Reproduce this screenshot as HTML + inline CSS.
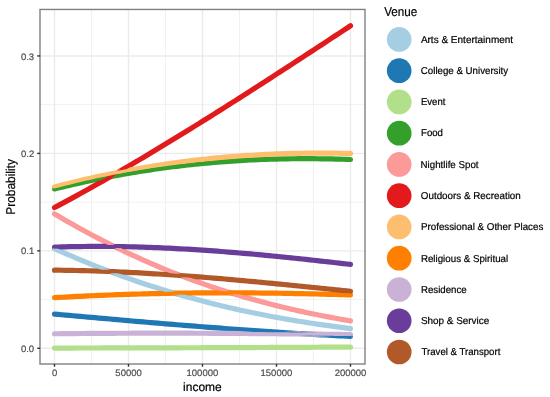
<!DOCTYPE html>
<html><head><meta charset="utf-8"><style>
html,body{margin:0;padding:0;background:#fff;width:550px;height:397px;overflow:hidden}
svg{display:block}
text{font-family:"Liberation Sans",Arial,Helvetica,sans-serif;text-rendering:geometricPrecision}
</style></head><body>
<svg width="550" height="397" viewBox="0 0 550 397">
<defs></defs><g>
<rect width="550" height="397" fill="#fff"/>
<g><line x1="40.0" x2="365.0" y1="299.57" y2="299.57" stroke="#EBEBEB" stroke-width="0.71"/><line x1="40.0" x2="365.0" y1="202.13" y2="202.13" stroke="#EBEBEB" stroke-width="0.71"/><line x1="40.0" x2="365.0" y1="104.68" y2="104.68" stroke="#EBEBEB" stroke-width="0.71"/><line y1="9.45" y2="364.0" x1="91.50" x2="91.50" stroke="#EBEBEB" stroke-width="0.71"/><line y1="9.45" y2="364.0" x1="165.50" x2="165.50" stroke="#EBEBEB" stroke-width="0.71"/><line y1="9.45" y2="364.0" x1="239.50" x2="239.50" stroke="#EBEBEB" stroke-width="0.71"/><line y1="9.45" y2="364.0" x1="313.50" x2="313.50" stroke="#EBEBEB" stroke-width="0.71"/><line x1="40.0" x2="365.0" y1="348.30" y2="348.30" stroke="#EBEBEB" stroke-width="1.42"/><line x1="40.0" x2="365.0" y1="250.85" y2="250.85" stroke="#EBEBEB" stroke-width="1.42"/><line x1="40.0" x2="365.0" y1="153.40" y2="153.40" stroke="#EBEBEB" stroke-width="1.42"/><line x1="40.0" x2="365.0" y1="55.95" y2="55.95" stroke="#EBEBEB" stroke-width="1.42"/><line y1="9.45" y2="364.0" x1="54.50" x2="54.50" stroke="#EBEBEB" stroke-width="1.42"/><line y1="9.45" y2="364.0" x1="128.50" x2="128.50" stroke="#EBEBEB" stroke-width="1.42"/><line y1="9.45" y2="364.0" x1="202.50" x2="202.50" stroke="#EBEBEB" stroke-width="1.42"/><line y1="9.45" y2="364.0" x1="276.50" x2="276.50" stroke="#EBEBEB" stroke-width="1.42"/><line y1="9.45" y2="364.0" x1="350.50" x2="350.50" stroke="#EBEBEB" stroke-width="1.42"/></g>
<g><polyline points="54.50,248.62 58.20,250.28 61.90,251.91 65.60,253.53 69.30,255.14 73.00,256.72 76.70,258.29 80.40,259.84 84.10,261.37 87.80,262.89 91.50,264.38 95.20,265.86 98.90,267.32 102.60,268.77 106.30,270.19 110.00,271.60 113.70,272.99 117.40,274.36 121.10,275.71 124.80,277.05 128.50,278.37 132.20,279.67 135.90,280.95 139.60,282.21 143.30,283.46 147.00,284.69 150.70,285.90 154.40,287.09 158.10,288.27 161.80,289.43 165.50,290.57 169.20,291.69 172.90,292.80 176.60,293.89 180.30,294.96 184.00,296.02 187.70,297.06 191.40,298.08 195.10,299.09 198.80,300.08 202.50,301.05 206.20,302.01 209.90,302.95 213.60,303.88 217.30,304.79 221.00,305.68 224.70,306.56 228.40,307.43 232.10,308.28 235.80,309.11 239.50,309.93 243.20,310.74 246.90,311.53 250.60,312.31 254.30,313.07 258.00,313.82 261.70,314.56 265.40,315.28 269.10,315.99 272.80,316.69 276.50,317.37 280.20,318.04 283.90,318.70 287.60,319.34 291.30,319.98 295.00,320.60 298.70,321.20 302.40,321.80 306.10,322.39 309.80,322.96 313.50,323.52 317.20,324.08 320.90,324.62 324.60,325.15 328.30,325.67 332.00,326.18 335.70,326.67 339.40,327.16 343.10,327.64 346.80,328.11 350.50,328.57" fill="none" stroke="#A6CEE3" stroke-width="5.2" stroke-linecap="round" stroke-linejoin="round"/><polyline points="54.50,314.08 58.20,314.41 61.90,314.74 65.60,315.07 69.30,315.40 73.00,315.73 76.70,316.06 80.40,316.39 84.10,316.72 87.80,317.05 91.50,317.38 95.20,317.71 98.90,318.04 102.60,318.37 106.30,318.70 110.00,319.03 113.70,319.35 117.40,319.68 121.10,320.00 124.80,320.33 128.50,320.65 132.20,320.97 135.90,321.29 139.60,321.61 143.30,321.93 147.00,322.24 150.70,322.56 154.40,322.87 158.10,323.18 161.80,323.49 165.50,323.80 169.20,324.11 172.90,324.41 176.60,324.72 180.30,325.02 184.00,325.32 187.70,325.61 191.40,325.91 195.10,326.20 198.80,326.49 202.50,326.78 206.20,327.07 209.90,327.35 213.60,327.64 217.30,327.92 221.00,328.19 224.70,328.47 228.40,328.74 232.10,329.01 235.80,329.28 239.50,329.55 243.20,329.81 246.90,330.07 250.60,330.33 254.30,330.59 258.00,330.84 261.70,331.09 265.40,331.34 269.10,331.59 272.80,331.83 276.50,332.07 280.20,332.31 283.90,332.55 287.60,332.78 291.30,333.02 295.00,333.24 298.70,333.47 302.40,333.69 306.10,333.92 309.80,334.14 313.50,334.35 317.20,334.57 320.90,334.78 324.60,334.99 328.30,335.19 332.00,335.40 335.70,335.60 339.40,335.80 343.10,335.99 346.80,336.19 350.50,336.38" fill="none" stroke="#1F78B4" stroke-width="5.2" stroke-linecap="round" stroke-linejoin="round"/><polyline points="54.50,348.06 58.20,348.05 61.90,348.05 65.60,348.04 69.30,348.03 73.00,348.03 76.70,348.02 80.40,348.01 84.10,348.01 87.80,348.00 91.50,347.99 95.20,347.99 98.90,347.98 102.60,347.97 106.30,347.96 110.00,347.96 113.70,347.95 117.40,347.94 121.10,347.93 124.80,347.92 128.50,347.92 132.20,347.91 135.90,347.90 139.60,347.89 143.30,347.88 147.00,347.87 150.70,347.86 154.40,347.85 158.10,347.84 161.80,347.83 165.50,347.82 169.20,347.81 172.90,347.80 176.60,347.79 180.30,347.78 184.00,347.77 187.70,347.76 191.40,347.75 195.10,347.74 198.80,347.73 202.50,347.71 206.20,347.70 209.90,347.69 213.60,347.68 217.30,347.67 221.00,347.65 224.70,347.64 228.40,347.63 232.10,347.61 235.80,347.60 239.50,347.59 243.20,347.57 246.90,347.56 250.60,347.54 254.30,347.53 258.00,347.51 261.70,347.50 265.40,347.48 269.10,347.47 272.80,347.45 276.50,347.43 280.20,347.42 283.90,347.40 287.60,347.38 291.30,347.37 295.00,347.35 298.70,347.33 302.40,347.31 306.10,347.30 309.80,347.28 313.50,347.26 317.20,347.24 320.90,347.22 324.60,347.20 328.30,347.18 332.00,347.16 335.70,347.14 339.40,347.12 343.10,347.10 346.80,347.08 350.50,347.05" fill="none" stroke="#B2DF8A" stroke-width="5.2" stroke-linecap="round" stroke-linejoin="round"/><polyline points="54.50,188.92 58.20,188.02 61.90,187.13 65.60,186.26 69.30,185.39 73.00,184.54 76.70,183.71 80.40,182.88 84.10,182.07 87.80,181.27 91.50,180.49 95.20,179.72 98.90,178.96 102.60,178.22 106.30,177.49 110.00,176.77 113.70,176.07 117.40,175.38 121.10,174.71 124.80,174.05 128.50,173.40 132.20,172.77 135.90,172.15 139.60,171.55 143.30,170.96 147.00,170.38 150.70,169.82 154.40,169.28 158.10,168.74 161.80,168.23 165.50,167.72 169.20,167.23 172.90,166.76 176.60,166.30 180.30,165.85 184.00,165.42 187.70,165.00 191.40,164.60 195.10,164.21 198.80,163.83 202.50,163.47 206.20,163.12 209.90,162.79 213.60,162.47 217.30,162.16 221.00,161.87 224.70,161.59 228.40,161.32 232.10,161.07 235.80,160.83 239.50,160.60 243.20,160.39 246.90,160.19 250.60,160.00 254.30,159.83 258.00,159.66 261.70,159.52 265.40,159.38 269.10,159.26 272.80,159.14 276.50,159.04 280.20,158.96 283.90,158.88 287.60,158.82 291.30,158.77 295.00,158.73 298.70,158.70 302.40,158.69 306.10,158.68 309.80,158.69 313.50,158.71 317.20,158.74 320.90,158.78 324.60,158.83 328.30,158.89 332.00,158.96 335.70,159.05 339.40,159.14 343.10,159.24 346.80,159.36 350.50,159.48" fill="none" stroke="#33A02C" stroke-width="5.2" stroke-linecap="round" stroke-linejoin="round"/><polyline points="54.50,213.90 58.20,216.08 61.90,218.24 65.60,220.38 69.30,222.49 73.00,224.58 76.70,226.66 80.40,228.71 84.10,230.73 87.80,232.74 91.50,234.72 95.20,236.68 98.90,238.62 102.60,240.53 106.30,242.42 110.00,244.29 113.70,246.13 117.40,247.96 121.10,249.76 124.80,251.53 128.50,253.29 132.20,255.02 135.90,256.72 139.60,258.41 143.30,260.07 147.00,261.71 150.70,263.33 154.40,264.92 158.10,266.49 161.80,268.04 165.50,269.57 169.20,271.07 172.90,272.55 176.60,274.01 180.30,275.45 184.00,276.86 187.70,278.26 191.40,279.63 195.10,280.98 198.80,282.31 202.50,283.62 206.20,284.90 209.90,286.17 213.60,287.42 217.30,288.64 221.00,289.85 224.70,291.03 228.40,292.20 232.10,293.34 235.80,294.47 239.50,295.58 243.20,296.67 246.90,297.74 250.60,298.79 254.30,299.82 258.00,300.83 261.70,301.83 265.40,302.80 269.10,303.77 272.80,304.71 276.50,305.63 280.20,306.54 283.90,307.43 287.60,308.31 291.30,309.17 295.00,310.01 298.70,310.84 302.40,311.65 306.10,312.45 309.80,313.23 313.50,313.99 317.20,314.75 320.90,315.48 324.60,316.20 328.30,316.91 332.00,317.61 335.70,318.29 339.40,318.96 343.10,319.61 346.80,320.25 350.50,320.88" fill="none" stroke="#FB9A99" stroke-width="5.2" stroke-linecap="round" stroke-linejoin="round"/><polyline points="54.50,207.57 58.20,205.61 61.90,203.63 65.60,201.64 69.30,199.63 73.00,197.62 76.70,195.60 80.40,193.56 84.10,191.51 87.80,189.45 91.50,187.39 95.20,185.31 98.90,183.22 102.60,181.12 106.30,179.01 110.00,176.90 113.70,174.77 117.40,172.63 121.10,170.49 124.80,168.33 128.50,166.17 132.20,164.00 135.90,161.82 139.60,159.63 143.30,157.43 147.00,155.23 150.70,153.01 154.40,150.79 158.10,148.57 161.80,146.33 165.50,144.09 169.20,141.84 172.90,139.58 176.60,137.32 180.30,135.05 184.00,132.78 187.70,130.49 191.40,128.21 195.10,125.91 198.80,123.61 202.50,121.31 206.20,118.99 209.90,116.68 213.60,114.36 217.30,112.03 221.00,109.70 224.70,107.36 228.40,105.02 232.10,102.67 235.80,100.32 239.50,97.96 243.20,95.60 246.90,93.24 250.60,90.87 254.30,88.50 258.00,86.12 261.70,83.74 265.40,81.36 269.10,78.97 272.80,76.58 276.50,74.18 280.20,71.79 283.90,69.39 287.60,66.98 291.30,64.58 295.00,62.17 298.70,59.76 302.40,57.34 306.10,54.93 309.80,52.51 313.50,50.09 317.20,47.66 320.90,45.24 324.60,42.81 328.30,40.38 332.00,37.95 335.70,35.52 339.40,33.08 343.10,30.64 346.80,28.21 350.50,25.77" fill="none" stroke="#E31A1C" stroke-width="5.2" stroke-linecap="round" stroke-linejoin="round"/><polyline points="54.50,186.90 58.20,185.95 61.90,185.02 65.60,184.09 69.30,183.18 73.00,182.27 76.70,181.39 80.40,180.51 84.10,179.65 87.80,178.80 91.50,177.96 95.20,177.14 98.90,176.33 102.60,175.53 106.30,174.75 110.00,173.98 113.70,173.23 117.40,172.49 121.10,171.76 124.80,171.05 128.50,170.35 132.20,169.66 135.90,168.99 139.60,168.34 143.30,167.69 147.00,167.07 150.70,166.45 154.40,165.85 158.10,165.27 161.80,164.70 165.50,164.14 169.20,163.60 172.90,163.07 176.60,162.56 180.30,162.06 184.00,161.57 187.70,161.10 191.40,160.64 195.10,160.20 198.80,159.77 202.50,159.36 206.20,158.96 209.90,158.57 213.60,158.20 217.30,157.84 221.00,157.49 224.70,157.16 228.40,156.85 232.10,156.54 235.80,156.25 239.50,155.97 243.20,155.71 246.90,155.46 250.60,155.22 254.30,155.00 258.00,154.79 261.70,154.59 265.40,154.40 269.10,154.23 272.80,154.07 276.50,153.92 280.20,153.79 283.90,153.67 287.60,153.56 291.30,153.46 295.00,153.37 298.70,153.30 302.40,153.24 306.10,153.19 309.80,153.15 313.50,153.12 317.20,153.10 320.90,153.10 324.60,153.11 328.30,153.13 332.00,153.15 335.70,153.19 339.40,153.24 343.10,153.31 346.80,153.38 350.50,153.46" fill="none" stroke="#FDBF6F" stroke-width="5.2" stroke-linecap="round" stroke-linejoin="round"/><polyline points="54.50,297.67 58.20,297.46 61.90,297.25 65.60,297.05 69.30,296.85 73.00,296.66 76.70,296.47 80.40,296.28 84.10,296.11 87.80,295.93 91.50,295.76 95.20,295.60 98.90,295.44 102.60,295.28 106.30,295.13 110.00,294.99 113.70,294.85 117.40,294.71 121.10,294.58 124.80,294.46 128.50,294.34 132.20,294.22 135.90,294.11 139.60,294.00 143.30,293.90 147.00,293.80 150.70,293.71 154.40,293.62 158.10,293.54 161.80,293.46 165.50,293.39 169.20,293.32 172.90,293.26 176.60,293.20 180.30,293.15 184.00,293.10 187.70,293.05 191.40,293.01 195.10,292.97 198.80,292.94 202.50,292.91 206.20,292.89 209.90,292.87 213.60,292.85 217.30,292.84 221.00,292.84 224.70,292.83 228.40,292.84 232.10,292.84 235.80,292.85 239.50,292.87 243.20,292.88 246.90,292.91 250.60,292.93 254.30,292.96 258.00,292.99 261.70,293.03 265.40,293.07 269.10,293.12 272.80,293.17 276.50,293.22 280.20,293.27 283.90,293.33 287.60,293.39 291.30,293.46 295.00,293.53 298.70,293.60 302.40,293.67 306.10,293.75 309.80,293.83 313.50,293.92 317.20,294.01 320.90,294.10 324.60,294.19 328.30,294.29 332.00,294.39 335.70,294.49 339.40,294.59 343.10,294.70 346.80,294.81 350.50,294.92" fill="none" stroke="#FF7F00" stroke-width="5.2" stroke-linecap="round" stroke-linejoin="round"/><polyline points="54.50,333.77 58.20,333.73 61.90,333.69 65.60,333.65 69.30,333.61 73.00,333.58 76.70,333.54 80.40,333.51 84.10,333.48 87.80,333.45 91.50,333.43 95.20,333.40 98.90,333.38 102.60,333.35 106.30,333.33 110.00,333.31 113.70,333.29 117.40,333.27 121.10,333.26 124.80,333.24 128.50,333.23 132.20,333.22 135.90,333.21 139.60,333.20 143.30,333.19 147.00,333.19 150.70,333.18 154.40,333.18 158.10,333.18 161.80,333.18 165.50,333.18 169.20,333.18 172.90,333.18 176.60,333.19 180.30,333.19 184.00,333.20 187.70,333.21 191.40,333.22 195.10,333.23 198.80,333.24 202.50,333.26 206.20,333.27 209.90,333.29 213.60,333.30 217.30,333.32 221.00,333.34 224.70,333.36 228.40,333.38 232.10,333.40 235.80,333.43 239.50,333.45 243.20,333.48 246.90,333.50 250.60,333.53 254.30,333.56 258.00,333.59 261.70,333.62 265.40,333.65 269.10,333.68 272.80,333.71 276.50,333.75 280.20,333.78 283.90,333.82 287.60,333.85 291.30,333.89 295.00,333.93 298.70,333.97 302.40,334.01 306.10,334.05 309.80,334.09 313.50,334.13 317.20,334.17 320.90,334.21 324.60,334.26 328.30,334.30 332.00,334.35 335.70,334.39 339.40,334.44 343.10,334.49 346.80,334.53 350.50,334.58" fill="none" stroke="#CAB2D6" stroke-width="5.2" stroke-linecap="round" stroke-linejoin="round"/><polyline points="54.50,247.13 58.20,247.01 61.90,246.90 65.60,246.81 69.30,246.72 73.00,246.64 76.70,246.58 80.40,246.53 84.10,246.48 87.80,246.45 91.50,246.43 95.20,246.41 98.90,246.41 102.60,246.42 106.30,246.44 110.00,246.46 113.70,246.50 117.40,246.55 121.10,246.61 124.80,246.68 128.50,246.75 132.20,246.84 135.90,246.94 139.60,247.04 143.30,247.16 147.00,247.28 150.70,247.41 154.40,247.56 158.10,247.71 161.80,247.87 165.50,248.03 169.20,248.21 172.90,248.39 176.60,248.58 180.30,248.79 184.00,248.99 187.70,249.21 191.40,249.43 195.10,249.66 198.80,249.90 202.50,250.15 206.20,250.40 209.90,250.66 213.60,250.93 217.30,251.20 221.00,251.48 224.70,251.77 228.40,252.06 232.10,252.36 235.80,252.66 239.50,252.97 243.20,253.29 246.90,253.61 250.60,253.94 254.30,254.27 258.00,254.61 261.70,254.95 265.40,255.30 269.10,255.66 272.80,256.01 276.50,256.38 280.20,256.74 283.90,257.12 287.60,257.49 291.30,257.87 295.00,258.26 298.70,258.64 302.40,259.04 306.10,259.43 309.80,259.83 313.50,260.23 317.20,260.64 320.90,261.05 324.60,261.46 328.30,261.87 332.00,262.29 335.70,262.71 339.40,263.13 343.10,263.56 346.80,263.99 350.50,264.42" fill="none" stroke="#6A3D9A" stroke-width="5.2" stroke-linecap="round" stroke-linejoin="round"/><polyline points="54.50,270.17 58.20,270.20 61.90,270.24 65.60,270.29 69.30,270.35 73.00,270.42 76.70,270.49 80.40,270.57 84.10,270.67 87.80,270.76 91.50,270.87 95.20,270.98 98.90,271.11 102.60,271.23 106.30,271.37 110.00,271.52 113.70,271.67 117.40,271.82 121.10,271.99 124.80,272.16 128.50,272.34 132.20,272.53 135.90,272.72 139.60,272.92 143.30,273.13 147.00,273.34 150.70,273.55 154.40,273.78 158.10,274.01 161.80,274.24 165.50,274.49 169.20,274.73 172.90,274.99 176.60,275.24 180.30,275.51 184.00,275.77 187.70,276.05 191.40,276.33 195.10,276.61 198.80,276.90 202.50,277.19 206.20,277.48 209.90,277.78 213.60,278.09 217.30,278.40 221.00,278.71 224.70,279.03 228.40,279.35 232.10,279.67 235.80,280.00 239.50,280.33 243.20,280.66 246.90,281.00 250.60,281.34 254.30,281.68 258.00,282.03 261.70,282.38 265.40,282.73 269.10,283.08 272.80,283.43 276.50,283.79 280.20,284.15 283.90,284.52 287.60,284.88 291.30,285.25 295.00,285.61 298.70,285.98 302.40,286.35 306.10,286.73 309.80,287.10 313.50,287.48 317.20,287.85 320.90,288.23 324.60,288.61 328.30,288.99 332.00,289.37 335.70,289.75 339.40,290.13 343.10,290.52 346.80,290.90 350.50,291.28" fill="none" stroke="#B15928" stroke-width="5.2" stroke-linecap="round" stroke-linejoin="round"/></g>
<g><polyline points="54.50,248.62 58.20,250.28 61.90,251.91 65.60,253.53 69.30,255.14 73.00,256.72 76.70,258.29 80.40,259.84 84.10,261.37 87.80,262.89 91.50,264.38 95.20,265.86 98.90,267.32 102.60,268.77 106.30,270.19 110.00,271.60 113.70,272.99 117.40,274.36 121.10,275.71 124.80,277.05 128.50,278.37 132.20,279.67 135.90,280.95 139.60,282.21 143.30,283.46 147.00,284.69 150.70,285.90 154.40,287.09 158.10,288.27 161.80,289.43 165.50,290.57 169.20,291.69 172.90,292.80 176.60,293.89 180.30,294.96 184.00,296.02 187.70,297.06 191.40,298.08 195.10,299.09 198.80,300.08 202.50,301.05 206.20,302.01 209.90,302.95 213.60,303.88 217.30,304.79 221.00,305.68 224.70,306.56 228.40,307.43 232.10,308.28 235.80,309.11 239.50,309.93 243.20,310.74 246.90,311.53 250.60,312.31 254.30,313.07 258.00,313.82 261.70,314.56 265.40,315.28 269.10,315.99 272.80,316.69 276.50,317.37 280.20,318.04 283.90,318.70 287.60,319.34 291.30,319.98 295.00,320.60 298.70,321.20 302.40,321.80 306.10,322.39 309.80,322.96 313.50,323.52 317.20,324.08 320.90,324.62 324.60,325.15 328.30,325.67 332.00,326.18 335.70,326.67 339.40,327.16 343.10,327.64 346.80,328.11 350.50,328.57" fill="none" stroke="#A6CEE3" stroke-width="3.0" stroke-linecap="round" stroke-linejoin="round"/><polyline points="54.50,314.08 58.20,314.41 61.90,314.74 65.60,315.07 69.30,315.40 73.00,315.73 76.70,316.06 80.40,316.39 84.10,316.72 87.80,317.05 91.50,317.38 95.20,317.71 98.90,318.04 102.60,318.37 106.30,318.70 110.00,319.03 113.70,319.35 117.40,319.68 121.10,320.00 124.80,320.33 128.50,320.65 132.20,320.97 135.90,321.29 139.60,321.61 143.30,321.93 147.00,322.24 150.70,322.56 154.40,322.87 158.10,323.18 161.80,323.49 165.50,323.80 169.20,324.11 172.90,324.41 176.60,324.72 180.30,325.02 184.00,325.32 187.70,325.61 191.40,325.91 195.10,326.20 198.80,326.49 202.50,326.78 206.20,327.07 209.90,327.35 213.60,327.64 217.30,327.92 221.00,328.19 224.70,328.47 228.40,328.74 232.10,329.01 235.80,329.28 239.50,329.55 243.20,329.81 246.90,330.07 250.60,330.33 254.30,330.59 258.00,330.84 261.70,331.09 265.40,331.34 269.10,331.59 272.80,331.83 276.50,332.07 280.20,332.31 283.90,332.55 287.60,332.78 291.30,333.02 295.00,333.24 298.70,333.47 302.40,333.69 306.10,333.92 309.80,334.14 313.50,334.35 317.20,334.57 320.90,334.78 324.60,334.99 328.30,335.19 332.00,335.40 335.70,335.60 339.40,335.80 343.10,335.99 346.80,336.19 350.50,336.38" fill="none" stroke="#1F78B4" stroke-width="3.0" stroke-linecap="round" stroke-linejoin="round"/><polyline points="54.50,348.06 58.20,348.05 61.90,348.05 65.60,348.04 69.30,348.03 73.00,348.03 76.70,348.02 80.40,348.01 84.10,348.01 87.80,348.00 91.50,347.99 95.20,347.99 98.90,347.98 102.60,347.97 106.30,347.96 110.00,347.96 113.70,347.95 117.40,347.94 121.10,347.93 124.80,347.92 128.50,347.92 132.20,347.91 135.90,347.90 139.60,347.89 143.30,347.88 147.00,347.87 150.70,347.86 154.40,347.85 158.10,347.84 161.80,347.83 165.50,347.82 169.20,347.81 172.90,347.80 176.60,347.79 180.30,347.78 184.00,347.77 187.70,347.76 191.40,347.75 195.10,347.74 198.80,347.73 202.50,347.71 206.20,347.70 209.90,347.69 213.60,347.68 217.30,347.67 221.00,347.65 224.70,347.64 228.40,347.63 232.10,347.61 235.80,347.60 239.50,347.59 243.20,347.57 246.90,347.56 250.60,347.54 254.30,347.53 258.00,347.51 261.70,347.50 265.40,347.48 269.10,347.47 272.80,347.45 276.50,347.43 280.20,347.42 283.90,347.40 287.60,347.38 291.30,347.37 295.00,347.35 298.70,347.33 302.40,347.31 306.10,347.30 309.80,347.28 313.50,347.26 317.20,347.24 320.90,347.22 324.60,347.20 328.30,347.18 332.00,347.16 335.70,347.14 339.40,347.12 343.10,347.10 346.80,347.08 350.50,347.05" fill="none" stroke="#B2DF8A" stroke-width="3.0" stroke-linecap="round" stroke-linejoin="round"/><polyline points="54.50,188.92 58.20,188.02 61.90,187.13 65.60,186.26 69.30,185.39 73.00,184.54 76.70,183.71 80.40,182.88 84.10,182.07 87.80,181.27 91.50,180.49 95.20,179.72 98.90,178.96 102.60,178.22 106.30,177.49 110.00,176.77 113.70,176.07 117.40,175.38 121.10,174.71 124.80,174.05 128.50,173.40 132.20,172.77 135.90,172.15 139.60,171.55 143.30,170.96 147.00,170.38 150.70,169.82 154.40,169.28 158.10,168.74 161.80,168.23 165.50,167.72 169.20,167.23 172.90,166.76 176.60,166.30 180.30,165.85 184.00,165.42 187.70,165.00 191.40,164.60 195.10,164.21 198.80,163.83 202.50,163.47 206.20,163.12 209.90,162.79 213.60,162.47 217.30,162.16 221.00,161.87 224.70,161.59 228.40,161.32 232.10,161.07 235.80,160.83 239.50,160.60 243.20,160.39 246.90,160.19 250.60,160.00 254.30,159.83 258.00,159.66 261.70,159.52 265.40,159.38 269.10,159.26 272.80,159.14 276.50,159.04 280.20,158.96 283.90,158.88 287.60,158.82 291.30,158.77 295.00,158.73 298.70,158.70 302.40,158.69 306.10,158.68 309.80,158.69 313.50,158.71 317.20,158.74 320.90,158.78 324.60,158.83 328.30,158.89 332.00,158.96 335.70,159.05 339.40,159.14 343.10,159.24 346.80,159.36 350.50,159.48" fill="none" stroke="#33A02C" stroke-width="3.0" stroke-linecap="round" stroke-linejoin="round"/><polyline points="54.50,213.90 58.20,216.08 61.90,218.24 65.60,220.38 69.30,222.49 73.00,224.58 76.70,226.66 80.40,228.71 84.10,230.73 87.80,232.74 91.50,234.72 95.20,236.68 98.90,238.62 102.60,240.53 106.30,242.42 110.00,244.29 113.70,246.13 117.40,247.96 121.10,249.76 124.80,251.53 128.50,253.29 132.20,255.02 135.90,256.72 139.60,258.41 143.30,260.07 147.00,261.71 150.70,263.33 154.40,264.92 158.10,266.49 161.80,268.04 165.50,269.57 169.20,271.07 172.90,272.55 176.60,274.01 180.30,275.45 184.00,276.86 187.70,278.26 191.40,279.63 195.10,280.98 198.80,282.31 202.50,283.62 206.20,284.90 209.90,286.17 213.60,287.42 217.30,288.64 221.00,289.85 224.70,291.03 228.40,292.20 232.10,293.34 235.80,294.47 239.50,295.58 243.20,296.67 246.90,297.74 250.60,298.79 254.30,299.82 258.00,300.83 261.70,301.83 265.40,302.80 269.10,303.77 272.80,304.71 276.50,305.63 280.20,306.54 283.90,307.43 287.60,308.31 291.30,309.17 295.00,310.01 298.70,310.84 302.40,311.65 306.10,312.45 309.80,313.23 313.50,313.99 317.20,314.75 320.90,315.48 324.60,316.20 328.30,316.91 332.00,317.61 335.70,318.29 339.40,318.96 343.10,319.61 346.80,320.25 350.50,320.88" fill="none" stroke="#FB9A99" stroke-width="3.0" stroke-linecap="round" stroke-linejoin="round"/><polyline points="54.50,207.57 58.20,205.61 61.90,203.63 65.60,201.64 69.30,199.63 73.00,197.62 76.70,195.60 80.40,193.56 84.10,191.51 87.80,189.45 91.50,187.39 95.20,185.31 98.90,183.22 102.60,181.12 106.30,179.01 110.00,176.90 113.70,174.77 117.40,172.63 121.10,170.49 124.80,168.33 128.50,166.17 132.20,164.00 135.90,161.82 139.60,159.63 143.30,157.43 147.00,155.23 150.70,153.01 154.40,150.79 158.10,148.57 161.80,146.33 165.50,144.09 169.20,141.84 172.90,139.58 176.60,137.32 180.30,135.05 184.00,132.78 187.70,130.49 191.40,128.21 195.10,125.91 198.80,123.61 202.50,121.31 206.20,118.99 209.90,116.68 213.60,114.36 217.30,112.03 221.00,109.70 224.70,107.36 228.40,105.02 232.10,102.67 235.80,100.32 239.50,97.96 243.20,95.60 246.90,93.24 250.60,90.87 254.30,88.50 258.00,86.12 261.70,83.74 265.40,81.36 269.10,78.97 272.80,76.58 276.50,74.18 280.20,71.79 283.90,69.39 287.60,66.98 291.30,64.58 295.00,62.17 298.70,59.76 302.40,57.34 306.10,54.93 309.80,52.51 313.50,50.09 317.20,47.66 320.90,45.24 324.60,42.81 328.30,40.38 332.00,37.95 335.70,35.52 339.40,33.08 343.10,30.64 346.80,28.21 350.50,25.77" fill="none" stroke="#E31A1C" stroke-width="3.0" stroke-linecap="round" stroke-linejoin="round"/><polyline points="54.50,186.90 58.20,185.95 61.90,185.02 65.60,184.09 69.30,183.18 73.00,182.27 76.70,181.39 80.40,180.51 84.10,179.65 87.80,178.80 91.50,177.96 95.20,177.14 98.90,176.33 102.60,175.53 106.30,174.75 110.00,173.98 113.70,173.23 117.40,172.49 121.10,171.76 124.80,171.05 128.50,170.35 132.20,169.66 135.90,168.99 139.60,168.34 143.30,167.69 147.00,167.07 150.70,166.45 154.40,165.85 158.10,165.27 161.80,164.70 165.50,164.14 169.20,163.60 172.90,163.07 176.60,162.56 180.30,162.06 184.00,161.57 187.70,161.10 191.40,160.64 195.10,160.20 198.80,159.77 202.50,159.36 206.20,158.96 209.90,158.57 213.60,158.20 217.30,157.84 221.00,157.49 224.70,157.16 228.40,156.85 232.10,156.54 235.80,156.25 239.50,155.97 243.20,155.71 246.90,155.46 250.60,155.22 254.30,155.00 258.00,154.79 261.70,154.59 265.40,154.40 269.10,154.23 272.80,154.07 276.50,153.92 280.20,153.79 283.90,153.67 287.60,153.56 291.30,153.46 295.00,153.37 298.70,153.30 302.40,153.24 306.10,153.19 309.80,153.15 313.50,153.12 317.20,153.10 320.90,153.10 324.60,153.11 328.30,153.13 332.00,153.15 335.70,153.19 339.40,153.24 343.10,153.31 346.80,153.38 350.50,153.46" fill="none" stroke="#FDBF6F" stroke-width="3.0" stroke-linecap="round" stroke-linejoin="round"/><polyline points="54.50,297.67 58.20,297.46 61.90,297.25 65.60,297.05 69.30,296.85 73.00,296.66 76.70,296.47 80.40,296.28 84.10,296.11 87.80,295.93 91.50,295.76 95.20,295.60 98.90,295.44 102.60,295.28 106.30,295.13 110.00,294.99 113.70,294.85 117.40,294.71 121.10,294.58 124.80,294.46 128.50,294.34 132.20,294.22 135.90,294.11 139.60,294.00 143.30,293.90 147.00,293.80 150.70,293.71 154.40,293.62 158.10,293.54 161.80,293.46 165.50,293.39 169.20,293.32 172.90,293.26 176.60,293.20 180.30,293.15 184.00,293.10 187.70,293.05 191.40,293.01 195.10,292.97 198.80,292.94 202.50,292.91 206.20,292.89 209.90,292.87 213.60,292.85 217.30,292.84 221.00,292.84 224.70,292.83 228.40,292.84 232.10,292.84 235.80,292.85 239.50,292.87 243.20,292.88 246.90,292.91 250.60,292.93 254.30,292.96 258.00,292.99 261.70,293.03 265.40,293.07 269.10,293.12 272.80,293.17 276.50,293.22 280.20,293.27 283.90,293.33 287.60,293.39 291.30,293.46 295.00,293.53 298.70,293.60 302.40,293.67 306.10,293.75 309.80,293.83 313.50,293.92 317.20,294.01 320.90,294.10 324.60,294.19 328.30,294.29 332.00,294.39 335.70,294.49 339.40,294.59 343.10,294.70 346.80,294.81 350.50,294.92" fill="none" stroke="#FF7F00" stroke-width="3.0" stroke-linecap="round" stroke-linejoin="round"/><polyline points="54.50,333.77 58.20,333.73 61.90,333.69 65.60,333.65 69.30,333.61 73.00,333.58 76.70,333.54 80.40,333.51 84.10,333.48 87.80,333.45 91.50,333.43 95.20,333.40 98.90,333.38 102.60,333.35 106.30,333.33 110.00,333.31 113.70,333.29 117.40,333.27 121.10,333.26 124.80,333.24 128.50,333.23 132.20,333.22 135.90,333.21 139.60,333.20 143.30,333.19 147.00,333.19 150.70,333.18 154.40,333.18 158.10,333.18 161.80,333.18 165.50,333.18 169.20,333.18 172.90,333.18 176.60,333.19 180.30,333.19 184.00,333.20 187.70,333.21 191.40,333.22 195.10,333.23 198.80,333.24 202.50,333.26 206.20,333.27 209.90,333.29 213.60,333.30 217.30,333.32 221.00,333.34 224.70,333.36 228.40,333.38 232.10,333.40 235.80,333.43 239.50,333.45 243.20,333.48 246.90,333.50 250.60,333.53 254.30,333.56 258.00,333.59 261.70,333.62 265.40,333.65 269.10,333.68 272.80,333.71 276.50,333.75 280.20,333.78 283.90,333.82 287.60,333.85 291.30,333.89 295.00,333.93 298.70,333.97 302.40,334.01 306.10,334.05 309.80,334.09 313.50,334.13 317.20,334.17 320.90,334.21 324.60,334.26 328.30,334.30 332.00,334.35 335.70,334.39 339.40,334.44 343.10,334.49 346.80,334.53 350.50,334.58" fill="none" stroke="#CAB2D6" stroke-width="3.0" stroke-linecap="round" stroke-linejoin="round"/><polyline points="54.50,247.13 58.20,247.01 61.90,246.90 65.60,246.81 69.30,246.72 73.00,246.64 76.70,246.58 80.40,246.53 84.10,246.48 87.80,246.45 91.50,246.43 95.20,246.41 98.90,246.41 102.60,246.42 106.30,246.44 110.00,246.46 113.70,246.50 117.40,246.55 121.10,246.61 124.80,246.68 128.50,246.75 132.20,246.84 135.90,246.94 139.60,247.04 143.30,247.16 147.00,247.28 150.70,247.41 154.40,247.56 158.10,247.71 161.80,247.87 165.50,248.03 169.20,248.21 172.90,248.39 176.60,248.58 180.30,248.79 184.00,248.99 187.70,249.21 191.40,249.43 195.10,249.66 198.80,249.90 202.50,250.15 206.20,250.40 209.90,250.66 213.60,250.93 217.30,251.20 221.00,251.48 224.70,251.77 228.40,252.06 232.10,252.36 235.80,252.66 239.50,252.97 243.20,253.29 246.90,253.61 250.60,253.94 254.30,254.27 258.00,254.61 261.70,254.95 265.40,255.30 269.10,255.66 272.80,256.01 276.50,256.38 280.20,256.74 283.90,257.12 287.60,257.49 291.30,257.87 295.00,258.26 298.70,258.64 302.40,259.04 306.10,259.43 309.80,259.83 313.50,260.23 317.20,260.64 320.90,261.05 324.60,261.46 328.30,261.87 332.00,262.29 335.70,262.71 339.40,263.13 343.10,263.56 346.80,263.99 350.50,264.42" fill="none" stroke="#6A3D9A" stroke-width="3.0" stroke-linecap="round" stroke-linejoin="round"/><polyline points="54.50,270.17 58.20,270.20 61.90,270.24 65.60,270.29 69.30,270.35 73.00,270.42 76.70,270.49 80.40,270.57 84.10,270.67 87.80,270.76 91.50,270.87 95.20,270.98 98.90,271.11 102.60,271.23 106.30,271.37 110.00,271.52 113.70,271.67 117.40,271.82 121.10,271.99 124.80,272.16 128.50,272.34 132.20,272.53 135.90,272.72 139.60,272.92 143.30,273.13 147.00,273.34 150.70,273.55 154.40,273.78 158.10,274.01 161.80,274.24 165.50,274.49 169.20,274.73 172.90,274.99 176.60,275.24 180.30,275.51 184.00,275.77 187.70,276.05 191.40,276.33 195.10,276.61 198.80,276.90 202.50,277.19 206.20,277.48 209.90,277.78 213.60,278.09 217.30,278.40 221.00,278.71 224.70,279.03 228.40,279.35 232.10,279.67 235.80,280.00 239.50,280.33 243.20,280.66 246.90,281.00 250.60,281.34 254.30,281.68 258.00,282.03 261.70,282.38 265.40,282.73 269.10,283.08 272.80,283.43 276.50,283.79 280.20,284.15 283.90,284.52 287.60,284.88 291.30,285.25 295.00,285.61 298.70,285.98 302.40,286.35 306.10,286.73 309.80,287.10 313.50,287.48 317.20,287.85 320.90,288.23 324.60,288.61 328.30,288.99 332.00,289.37 335.70,289.75 339.40,290.13 343.10,290.52 346.80,290.90 350.50,291.28" fill="none" stroke="#B15928" stroke-width="3.0" stroke-linecap="round" stroke-linejoin="round"/></g>
<rect x="40.0" y="9.45" width="325.00" height="354.55" fill="none" stroke="#808080" stroke-width="1.4"/>
<g stroke="#333333" stroke-width="1.42"><line x1="37.25" x2="40.0" y1="348.30" y2="348.30"/><line x1="37.25" x2="40.0" y1="250.85" y2="250.85"/><line x1="37.25" x2="40.0" y1="153.40" y2="153.40"/><line x1="37.25" x2="40.0" y1="55.95" y2="55.95"/><line y1="364.0" y2="366.75" x1="54.50" x2="54.50"/><line y1="364.0" y2="366.75" x1="128.50" x2="128.50"/><line y1="364.0" y2="366.75" x1="202.50" x2="202.50"/><line y1="364.0" y2="366.75" x1="276.50" x2="276.50"/><line y1="364.0" y2="366.75" x1="350.50" x2="350.50"/></g>
<g fill="#4D4D4D" stroke="#4D4D4D" stroke-width="0.2"><text x="20.92" y="351.90" font-size="9.4" textLength="13.21" lengthAdjust="spacingAndGlyphs">0.0</text><text x="21.01" y="254.45" font-size="9.4" textLength="13.21" lengthAdjust="spacingAndGlyphs">0.1</text><text x="21.02" y="157.00" font-size="9.4" textLength="13.21" lengthAdjust="spacingAndGlyphs">0.2</text><text x="20.96" y="59.55" font-size="9.4" textLength="13.21" lengthAdjust="spacingAndGlyphs">0.3</text><text x="51.96" y="376.30" font-size="9.4" textLength="5.28" lengthAdjust="spacingAndGlyphs">0</text><text x="115.39" y="376.30" font-size="9.4" textLength="26.42" lengthAdjust="spacingAndGlyphs">50000</text><text x="186.57" y="376.30" font-size="9.4" textLength="31.70" lengthAdjust="spacingAndGlyphs">100000</text><text x="260.57" y="376.30" font-size="9.4" textLength="31.70" lengthAdjust="spacingAndGlyphs">150000</text><text x="334.70" y="376.30" font-size="9.4" textLength="31.70" lengthAdjust="spacingAndGlyphs">200000</text></g>
<g fill="#000" stroke="#000" stroke-width="0.2"><text x="183.09" y="390.50" font-size="12" textLength="38.64" lengthAdjust="spacingAndGlyphs">income</text><text x="384.19" y="15.70" font-size="12.8" textLength="33.18" lengthAdjust="spacingAndGlyphs">Venue</text><text transform="translate(14.9,0) rotate(-90)" x="-214.73" y="0" font-size="12.8" textLength="55.60" lengthAdjust="spacingAndGlyphs">Probability</text></g>
<g><circle cx="399.2" cy="39.40" r="12.35" fill="#A6CEE3"/><circle cx="399.2" cy="70.66" r="12.35" fill="#1F78B4"/><circle cx="399.2" cy="101.92" r="12.35" fill="#B2DF8A"/><circle cx="399.2" cy="133.18" r="12.35" fill="#33A02C"/><circle cx="399.2" cy="164.44" r="12.35" fill="#FB9A99"/><circle cx="399.2" cy="195.70" r="12.35" fill="#E31A1C"/><circle cx="399.2" cy="226.96" r="12.35" fill="#FDBF6F"/><circle cx="399.2" cy="258.22" r="12.35" fill="#FF7F00"/><circle cx="399.2" cy="289.48" r="12.35" fill="#CAB2D6"/><circle cx="399.2" cy="320.74" r="12.35" fill="#6A3D9A"/><circle cx="399.2" cy="352.00" r="12.35" fill="#B15928"/></g>
<g fill="#000" stroke="#000" stroke-width="0.2"><text x="420.88" y="42.70" font-size="10.0" textLength="92.24" lengthAdjust="spacingAndGlyphs">Arts &amp; Entertainment</text><text x="420.86" y="73.96" font-size="10.0" textLength="87.32" lengthAdjust="spacingAndGlyphs">College &amp; University</text><text x="420.91" y="105.22" font-size="10.0" textLength="24.50" lengthAdjust="spacingAndGlyphs">Event</text><text x="421.06" y="136.48" font-size="10.0" textLength="21.91" lengthAdjust="spacingAndGlyphs">Food</text><text x="420.55" y="167.74" font-size="10.0" textLength="57.97" lengthAdjust="spacingAndGlyphs">Nightlife Spot</text><text x="420.79" y="199.00" font-size="10.0" textLength="100.00" lengthAdjust="spacingAndGlyphs">Outdoors &amp; Recreation</text><text x="420.95" y="230.26" font-size="10.0" textLength="122.41" lengthAdjust="spacingAndGlyphs">Professional &amp; Other Places</text><text x="420.90" y="261.52" font-size="10.0" textLength="87.30" lengthAdjust="spacingAndGlyphs">Religious &amp; Spiritual</text><text x="420.91" y="292.78" font-size="10.0" textLength="45.77" lengthAdjust="spacingAndGlyphs">Residence</text><text x="420.89" y="324.04" font-size="10.0" textLength="68.40" lengthAdjust="spacingAndGlyphs">Shop &amp; Service</text><text x="421.49" y="355.30" font-size="10.0" textLength="78.83" lengthAdjust="spacingAndGlyphs">Travel &amp; Transport</text></g>
</g>
</svg>
</body></html>
